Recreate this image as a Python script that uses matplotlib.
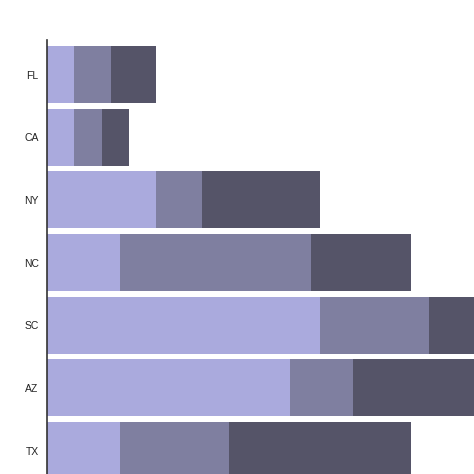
import matplotlib
matplotlib.use("Agg")
import matplotlib.pyplot as plt
import numpy as np

states = ["FL", "CA", "NY", "NC", "SC", "AZ", "TX"]
seg1 = [3, 3, 12, 8, 30, 26.7, 8]
seg2 = [4, 3, 5, 21, 12, 6.9, 12]
seg3 = [5, 3, 13, 11, 12, 15, 20]
colors = ["#aaaadd", "#7f7fa0", "#555468"]

fig = plt.figure(figsize=(4.74, 4.74), dpi=100)
ax = fig.add_axes([47/474, 0, 1 - 47/474, 434/474])

y = np.arange(len(states))
left = np.zeros(len(states))
for vals, c in zip([seg1, seg2, seg3], colors):
    ax.barh(y, vals, left=left, height=0.91, color=c, edgecolor="none")
    left = left + np.array(vals)

ax.set_ylim(6.375, -0.551)
ax.set_xlim(0, 427/9.1)
ax.set_yticks(y)
ax.set_yticklabels(states, fontsize=7.5, color="#222222", family="Liberation Sans")
ax.tick_params(axis="y", length=0, pad=6)
ax.set_xticks([])
for s in ["top", "right", "bottom"]:
    ax.spines[s].set_visible(False)
ax.spines["left"].set_color("#333333")
ax.spines["left"].set_linewidth(1.2)

fig.savefig("out.png", dpi=100)
